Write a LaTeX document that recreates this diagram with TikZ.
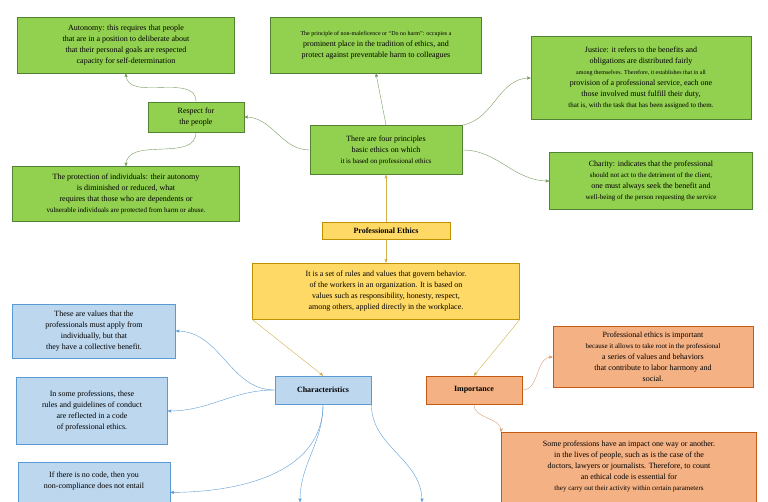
\documentclass[tikz,border=0pt]{standalone}
\usepackage{fontspec}
\setmainfont{Liberation Serif}
\usetikzlibrary{arrows}
\definecolor{grn}{RGB}{146,208,80}
\definecolor{grnd}{RGB}{84,130,53}
\definecolor{yel}{RGB}{255,217,102}
\definecolor{yeld}{RGB}{191,144,0}
\definecolor{blu}{RGB}{189,215,238}
\definecolor{blud}{RGB}{91,155,213}
\definecolor{org}{RGB}{244,177,131}
\definecolor{orgd}{RGB}{197,90,17}
\tikzstyle{gbox} = [draw=grnd,fill=grn,line width=0.8pt,align=center,font=\fontsize{8}{11}\selectfont,inner sep=2pt]
\tikzstyle{ybox} = [draw=yeld,fill=yel,line width=0.8pt,align=center,font=\fontsize{8}{11}\selectfont,inner sep=2pt]
\tikzstyle{bbox} = [draw=blud,fill=blu,line width=0.8pt,align=center,font=\fontsize{8}{11}\selectfont,inner sep=2pt]
\tikzstyle{obox} = [draw=orgd,fill=org,line width=0.8pt,align=center,font=\fontsize{8}{11}\selectfont,inner sep=2pt]
\begin{document}
\begin{tikzpicture}[x=1pt,y=-1pt,->,>=stealth',shorten >=0pt]

\useasboundingbox (0,0) rectangle (768,502);
\clip (0,0) rectangle (768,502);

\node[gbox, minimum width=217, minimum height=56] (auto) at (126,45) {Autonomy: this requires that people\\that are in a position to deliberate about\\that their personal goals are respected\\capacity for self-determination};
\node[gbox, minimum width=211, minimum height=56] (harm) at (376,45) {{\fontsize{6}{9}\selectfont The principle of non-maleficence or ``Do no harm'': occupies a}\\prominent place in the tradition of ethics, and\\protect against preventable harm to colleagues};
\node[gbox, minimum width=220, minimum height=83] (just) at (641,78) {Justice: it refers to the benefits and\\obligations are distributed fairly\\{\fontsize{6}{9}\selectfont among themselves. Therefore, it establishes that in all}\\provision of a professional service, each one\\those involved must fulfill their duty,\\{\fontsize{7}{10}\selectfont that is, with the task that has been assigned to them.}};
\node[gbox, minimum width=96, minimum height=30] (resp) at (196,117) {Respect for\\the people};
\node[gbox, minimum width=152, minimum height=49] (four) at (386,150) {There are four principles\\basic ethics on which\\{\fontsize{7}{10}\selectfont it is based on professional ethics}};
\node[gbox, minimum width=203, minimum height=57] (char) at (651,181) {Charity: indicates that the professional\\{\fontsize{7}{10}\selectfont should not act to the detriment of the client,}\\one must always seek the benefit and\\{\fontsize{7}{10}\selectfont well-being of the person requesting the service}};
\node[gbox, minimum width=227, minimum height=55] (prot) at (126,194) {The protection of individuals: their autonomy\\is diminished or reduced, what\\requires that those who are dependents or\\{\fontsize{7}{10}\selectfont vulnerable individuals are protected from harm or abuse.}};
\node[ybox, minimum width=128, minimum height=17, font=\fontsize{8}{10}\selectfont\bfseries] (pe) at (386,231) {Professional Ethics};
\node[ybox, minimum width=267, minimum height=56] (set) at (386,291) {It is a set of rules and values that govern behavior.\\of the workers in an organization. It is based on\\values such as responsibility, honesty, respect,\\among others, applied directly in the workplace.};
\node[bbox, minimum width=163, minimum height=54] (vals) at (94,331) {These are values that the\\professionals must apply from\\individually, but that\\they have a collective benefit.};
\node[bbox, minimum width=96, minimum height=28, font=\fontsize{8}{10}\selectfont\bfseries] (chr) at (323,390) {Characteristics};
\node[bbox, minimum width=151, minimum height=67] (some) at (92,411) {In some professions, these\\rules and guidelines of conduct\\are reflected in a code\\of professional ethics.};
\node[bbox, minimum width=152, minimum height=60, anchor=north] (nocode) at (94,462) {If there is no code, then you\\non-compliance does not entail\\\strut\\\strut};
\node[obox, minimum width=96, minimum height=28, font=\fontsize{8}{10}\selectfont\bfseries] (imp) at (474,390) {Importance};
\node[obox, minimum width=200, minimum height=61] (why) at (653,357) {Professional ethics is important\\{\fontsize{7}{10}\selectfont because it allows to take root in the professional}\\a series of values and behaviors\\that contribute to labor harmony and\\social.};
\node[obox, minimum width=255, minimum height=80, anchor=north] (impact) at (629,432) {Some professions have an impact one way or another.\\in the lives of people, such as is the case of the\\doctors, lawyers or journalists. Therefore, to count\\an ethical code is essential for\\{\fontsize{7}{10}\selectfont they carry out their activity within certain parameters}\\\strut};
\coordinate (down1) at (300,502);
\coordinate (down2) at (422,502);

% green branches
\begin{scope}[draw=grnd!80]
\draw (four.north) -- (harm.south);
\draw (four.west) to[out=180,in=0] (resp.east);
\draw (four.north east) to[out=10,in=180] (just.west);
\draw (four.east) to[out=0,in=180] (char.west);
\draw (resp.north) to[out=90,in=-90] (auto.south);
\draw (resp.south) to[out=-90,in=90] (prot.north);
\end{scope}

% yellow trunk
\begin{scope}[draw=yeld!70]
\draw (pe.north) -- (four.south);
\draw (pe.south) -- (set.north);
\draw (set.south west) -- (chr.north);
\draw (set.south east) -- (imp.north);
\end{scope}

% blue branches
\begin{scope}[draw=blud]
\draw (chr.west) to[out=180,in=0] (vals.east);
\draw (chr.west) to[out=180,in=0] (some.east);
\draw (chr.south) to[out=-90,in=0] (nocode.east);
\draw (chr.south) to[out=-90,in=90] (down1);
\draw (chr.south east) to[out=-90,in=90] (down2);
\end{scope}

% orange branches
\begin{scope}[draw=orgd!60]
\draw (imp.east) to[out=0,in=180] (why.west);
\draw (imp.south) to[out=-90,in=90] (impact.north west);
\end{scope}
\end{tikzpicture}
\end{document}
